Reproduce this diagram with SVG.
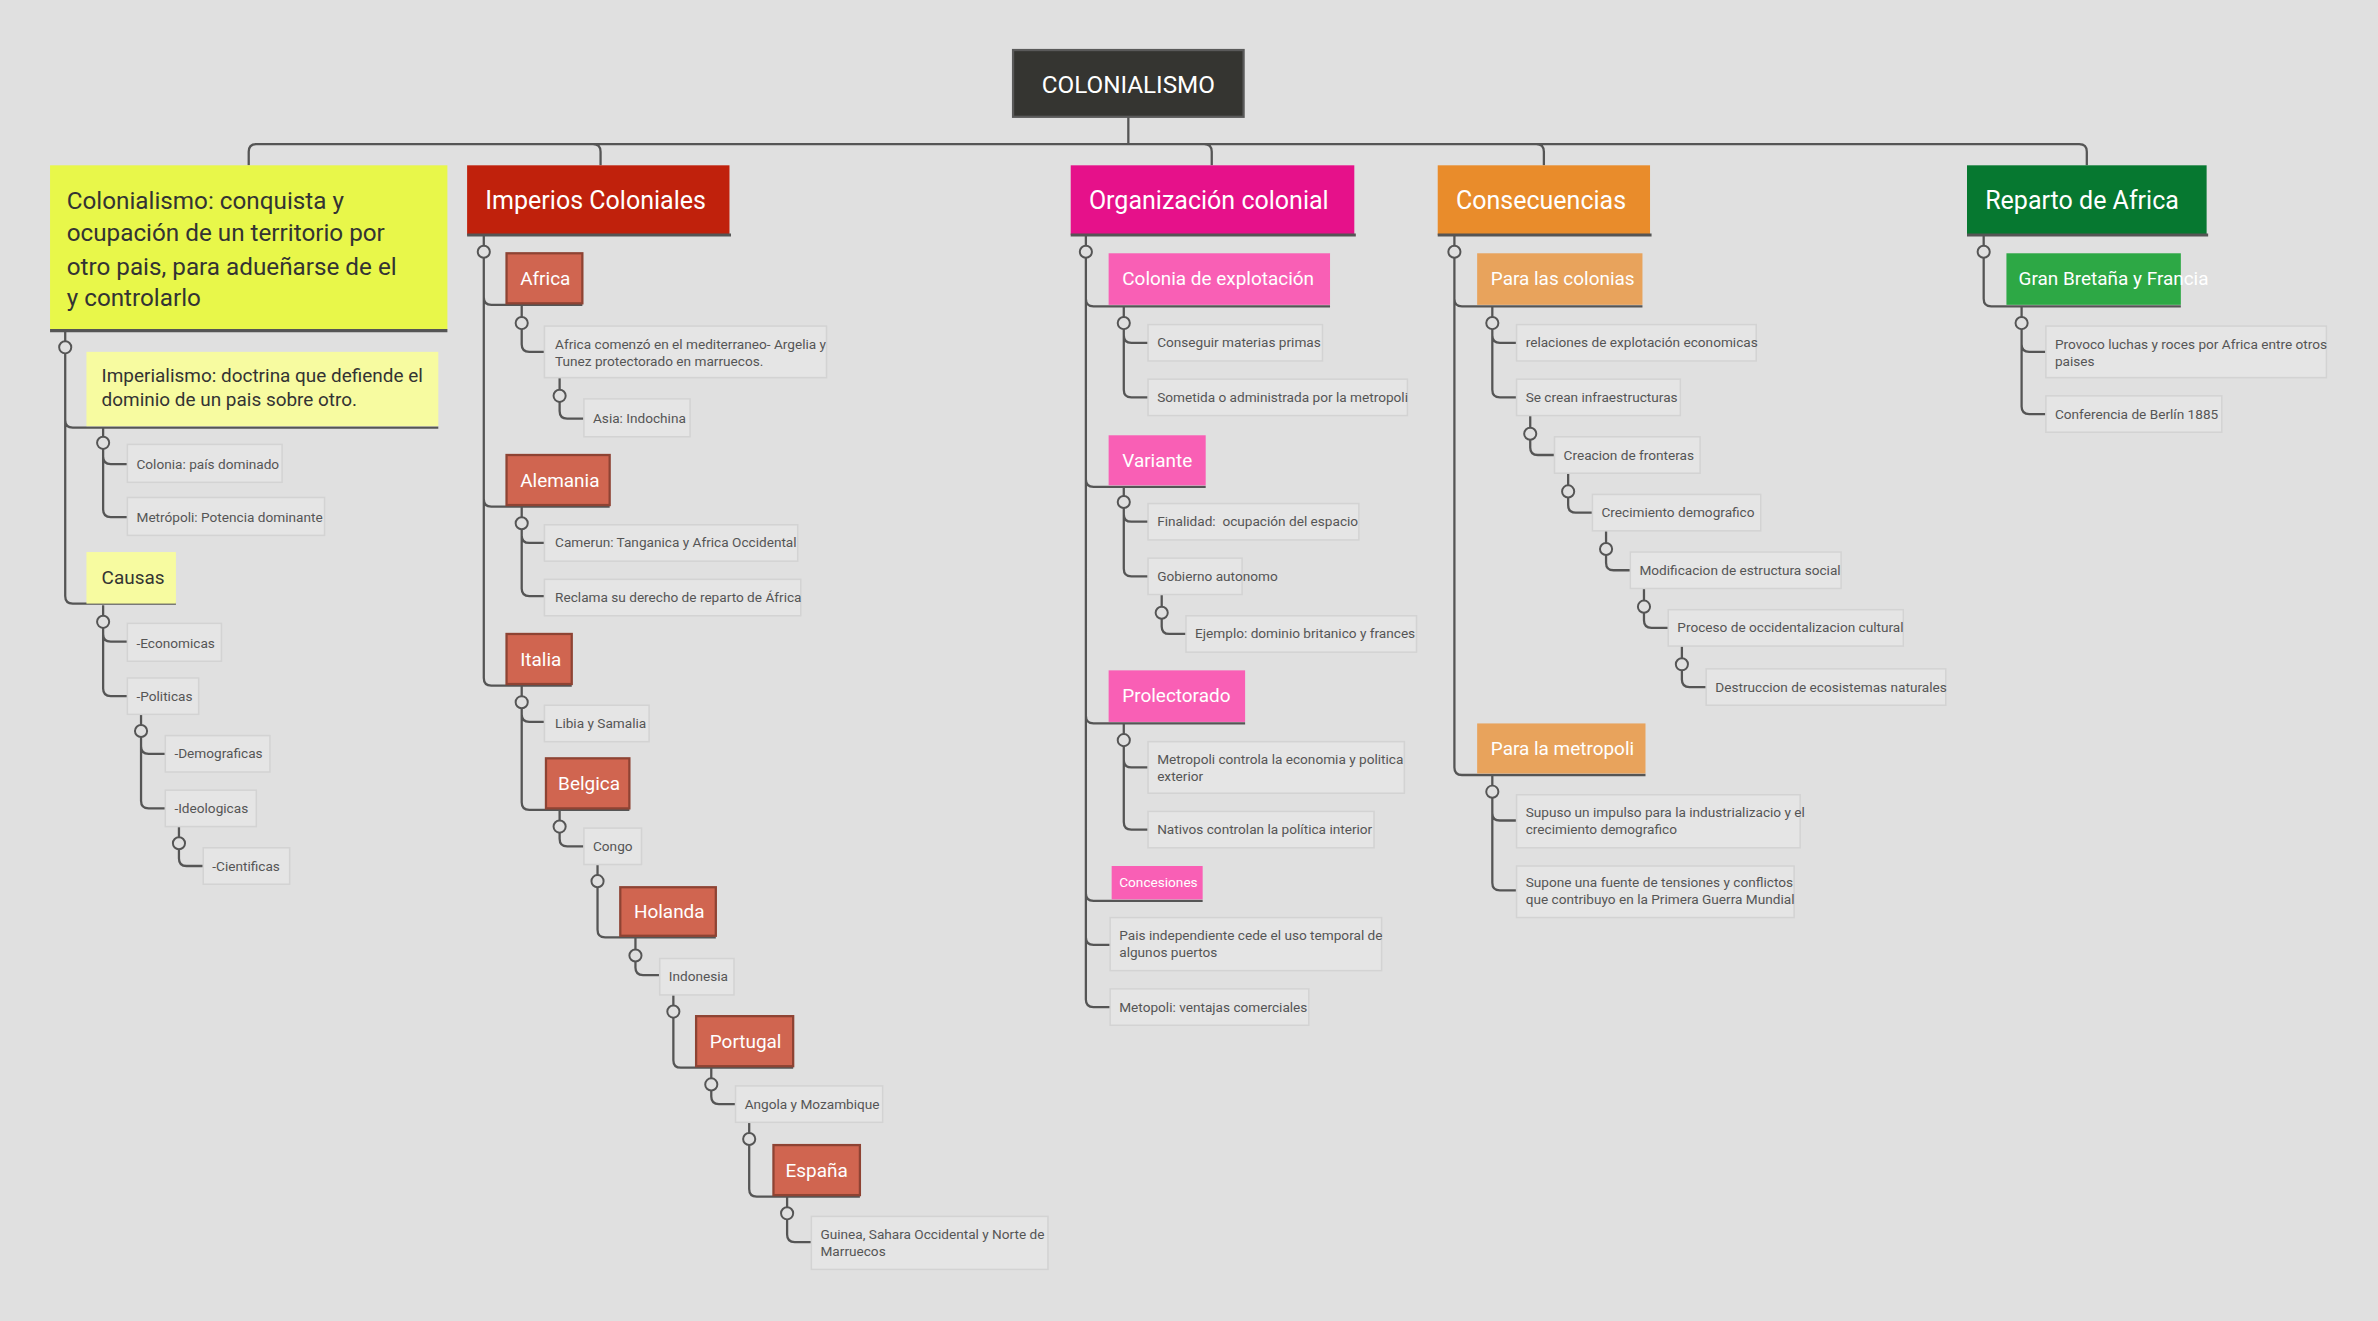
<svg xmlns="http://www.w3.org/2000/svg" width="2378" height="1321" viewBox="0 0 2378 1321">
<style>
text{font-family:Roboto,"Liberation Sans",sans-serif}
.c{fill:none;stroke:#555;stroke-width:1.5}
.k{fill:#e0e0e0;stroke:#555;stroke-width:1.3}
.lf{fill:#e5e5e5;stroke:#d3d3d3;stroke-width:1}
.lt{font-size:9px;fill:#555}
.st{font-size:12.5px;fill:#fff}
.mt{font-size:16.5px;fill:#fff}
.red{fill:#d06550;stroke:#8e4333;stroke-width:1.5}
.pk{fill:#f95fb5}
.ul{stroke:#555;stroke-width:2}
</style>
<rect width="2378" height="1321" fill="#e0e0e0"/>
<g transform="scale(1.51658,1.51665)">
<g id="connectors">
<path class="c" d="M744 77V95M164 109V100Q164 95 169 95H1371Q1376 95 1376 100V109M391 95Q396 95 396 100V109M794 95Q799 95 799 100V109M1013 95Q1018 95 1018 100V109"/>
<path class="c" d="M43 218V393Q43 398 48 398H116M43 218V277Q43 282 48 282H289M68 282V301Q68 306 73 306H84M68 282V336Q68 341 73 341H84M68 399V418Q68 423 73 423H84M68 399V454Q68 459 73 459H84M93 471V492Q93 497 98 497H109M93 471V528Q93 533 98 533H109M118 545V566Q118 571 123 571H134"/>
<path class="c" d="M319 155V196Q319 201 324 201H384M319 155V329Q319 334 324 334H402M319 155V447Q319 452 324 452H377M344 201V227Q344 232 349 232H359M369 249V271Q369 276 374 276H385M344 334V353Q344 358 349 358H359M344 334V388Q344 393 349 393H359M344 452V471Q344 476 349 476H359M344 452V529Q344 534 349 534H415M369 534V553Q369 558 374 558H385M394 570V613Q394 618 399 618H472M419 618V638Q419 643 424 643H435M444 656V699Q444 704 449 704H523M469 704V723Q469 728 474 728H485M494 740V784Q494 789 499 789H567M519 789V814Q519 819 524 819H535"/>
<path class="c" d="M716 155V197Q716 202 721 202H877M716 155V316Q716 321 721 321H795M716 155V472Q716 477 721 477H821M716 155V589Q716 594 721 594H793M716 155V618Q716 623 721 623H732M716 155V659Q716 664 721 664H732M741 202V221Q741 226 746 226H757M741 202V257Q741 262 746 262H757M741 321V339Q741 344 746 344H757M741 321V375Q741 380 746 380H757M766 392V413Q766 418 771 418H782M741 477V501Q741 506 746 506H757M741 477V542Q741 547 746 547H757"/>
<path class="c" d="M959 155V197Q959 202 964 202H1083M959 155V506Q959 511 964 511H1085M984 202V221Q984 226 989 226H1000M984 202V257Q984 262 989 262H1000M1009 274V295Q1009 300 1014 300H1025M1034 312V333Q1034 338 1039 338H1050M1059 350V371Q1059 376 1064 376H1075M1084 388V409Q1084 414 1089 414H1100M1109 426V448Q1109 453 1114 453H1125M984 511V536Q984 541 989 541H1000M984 511V582Q984 587 989 587H1000"/>
<path class="c" d="M1308 155V197Q1308 202 1313 202H1438M1333 202V227Q1333 232 1338 232H1349M1333 202V268Q1333 273 1338 273H1349"/>
<g>
<circle class="k" cx="43" cy="229" r="4"/><circle class="k" cx="68" cy="292" r="4"/><circle class="k" cx="68" cy="410" r="4"/><circle class="k" cx="93" cy="482" r="4"/><circle class="k" cx="118" cy="556" r="4"/>
<circle class="k" cx="319" cy="166" r="4"/><circle class="k" cx="344" cy="213" r="4"/><circle class="k" cx="369" cy="261" r="4"/><circle class="k" cx="344" cy="345" r="4"/><circle class="k" cx="344" cy="463" r="4"/><circle class="k" cx="369" cy="545" r="4"/><circle class="k" cx="394" cy="581" r="4"/><circle class="k" cx="419" cy="630" r="4"/><circle class="k" cx="444" cy="667" r="4"/><circle class="k" cx="469" cy="715" r="4"/><circle class="k" cx="494" cy="751" r="4"/><circle class="k" cx="519" cy="800" r="4"/>
<circle class="k" cx="716" cy="166" r="4"/><circle class="k" cx="741" cy="213" r="4"/><circle class="k" cx="741" cy="331" r="4"/><circle class="k" cx="766" cy="404" r="4"/><circle class="k" cx="741" cy="488" r="4"/>
<circle class="k" cx="959" cy="166" r="4"/><circle class="k" cx="984" cy="213" r="4"/><circle class="k" cx="1009" cy="286" r="4"/><circle class="k" cx="1034" cy="324" r="4"/><circle class="k" cx="1059" cy="362" r="4"/><circle class="k" cx="1084" cy="400" r="4"/><circle class="k" cx="1109" cy="438" r="4"/><circle class="k" cx="984" cy="522" r="4"/>
<circle class="k" cx="1308" cy="166" r="4"/><circle class="k" cx="1333" cy="213" r="4"/>
</g>
</g>
<g id="root"><rect x="668" y="33" width="152" height="44" fill="#353531" stroke="#5a5a5a" stroke-width="1.5"/><text x="744" y="61" text-anchor="middle" style="font-size:16px;fill:#fff">COLONIALISMO</text></g>

<g id="n-colonialismo"><rect x="33" y="109" width="262" height="108" fill="#e8f74a"/><line class="ul" x1="33" y1="218" x2="295" y2="218"/>
<text style="font-size:16px;fill:#333"><tspan x="44" y="138">Colonialismo: conquista y</tspan><tspan x="44" y="159">ocupación de un territorio por</tspan><tspan x="44" y="181">otro pais, para adueñarse de el</tspan><tspan x="44" y="202">y controlarlo</tspan></text></g>
<g id="n-imperialismo"><rect x="57" y="232" width="232" height="49" fill="#f7fba0"/><text style="font-size:12.5px;fill:#333"><tspan x="67" y="252">Imperialismo: doctrina que defiende el</tspan><tspan x="67" y="268">dominio de un pais sobre otro.</tspan></text></g>
<g id="n-colonia"><rect class="lf" x="84" y="293" width="102" height="25"/><text class="lt" x="90" y="309">Colonia: país dominado</text></g>
<g id="n-metropoli"><rect class="lf" x="84" y="328" width="130" height="25"/><text class="lt" x="90" y="344">Metrópoli: Potencia dominante</text></g>
<g id="n-causas"><rect x="57" y="364" width="59" height="34" fill="#f7fba0"/><text x="67" y="385" style="font-size:12.5px;fill:#333">Causas</text></g>
<g id="n-eco"><rect class="lf" x="84" y="411" width="62" height="25"/><text class="lt" x="90" y="427">-Economicas</text></g>
<g id="n-pol"><rect class="lf" x="84" y="447" width="47" height="24"/><text class="lt" x="90" y="462">-Politicas</text></g>
<g id="n-dem"><rect class="lf" x="109" y="485" width="69" height="24"/><text class="lt" x="115" y="500">-Demograficas</text></g>
<g id="n-ideo"><rect class="lf" x="109" y="521" width="60" height="24"/><text class="lt" x="115" y="536">-Ideologicas</text></g>
<g id="n-cien"><rect class="lf" x="134" y="559" width="57" height="24"/><text class="lt" x="140" y="574">-Cientificas</text></g>

<g id="n-imperios"><rect x="308" y="109" width="173" height="46" fill="#c0210c"/><line class="ul" x1="308" y1="155" x2="482" y2="155"/><text class="mt" x="320" y="138">Imperios Coloniales</text></g>
<g id="n-africa"><rect class="red" x="334" y="167" width="50" height="33"/><text class="st" x="343" y="188">Africa</text></g>
<g id="n-afr1"><rect class="lf" x="359" y="215" width="186" height="34"/><text class="lt"><tspan x="366" y="230">Africa comenzó en el mediterraneo- Argelia y</tspan><tspan x="366" y="241">Tunez protectorado en marruecos.</tspan></text></g>
<g id="n-asia"><rect class="lf" x="385" y="263" width="70" height="25"/><text class="lt" x="391" y="279">Asia: Indochina</text></g>
<g id="n-alemania"><rect class="red" x="334" y="300" width="68" height="33"/><text class="st" x="343" y="321">Alemania</text></g>
<g id="n-camerun"><rect class="lf" x="359" y="346" width="167" height="24"/><text class="lt" x="366" y="361">Camerun: Tanganica y Africa Occidental</text></g>
<g id="n-reclama"><rect class="lf" x="359" y="382" width="169" height="24"/><text class="lt" x="366" y="397">Reclama su derecho de reparto de África</text></g>
<g id="n-italia"><rect class="red" x="334" y="418" width="43" height="33"/><text class="st" x="343" y="439">Italia</text></g>
<g id="n-libia"><rect class="lf" x="359" y="465" width="69" height="24"/><text class="lt" x="366" y="480">Libia y Samalia</text></g>
<g id="n-belgica"><rect class="red" x="360" y="500" width="55" height="33"/><text class="st" x="368" y="521">Belgica</text></g>
<g id="n-congo"><rect class="lf" x="385" y="546" width="38" height="24"/><text class="lt" x="391" y="561">Congo</text></g>
<g id="n-holanda"><rect class="red" x="409" y="585" width="63" height="32"/><text class="st" x="418" y="605">Holanda</text></g>
<g id="n-indonesia"><rect class="lf" x="435" y="632" width="49" height="24"/><text class="lt" x="441" y="647">Indonesia</text></g>
<g id="n-portugal"><rect class="red" x="459" y="670" width="64" height="33"/><text class="st" x="468" y="691">Portugal</text></g>
<g id="n-angola"><rect class="lf" x="485" y="716" width="97" height="24"/><text class="lt" x="491" y="731">Angola y Mozambique</text></g>
<g id="n-espana"><rect class="red" x="510" y="755" width="57" height="33"/><text class="st" x="518" y="776">España</text></g>
<g id="n-guinea"><rect class="lf" x="535" y="802" width="156" height="35"/><text class="lt"><tspan x="541" y="817">Guinea, Sahara Occidental y Norte de</tspan><tspan x="541" y="828">Marruecos</tspan></text></g>

<g id="n-organizacion"><rect x="706" y="109" width="187" height="46" fill="#e6118a"/><line class="ul" x1="706" y1="155" x2="894" y2="155"/><text class="mt" x="718" y="138">Organización colonial</text></g>
<g id="n-explot"><rect class="pk" x="731" y="167" width="146" height="34"/><text class="st" x="740" y="188">Colonia de explotación</text></g>
<g id="n-consegir"><rect class="lf" x="757" y="214" width="115" height="24"/><text class="lt" x="763" y="229">Conseguir materias primas</text></g>
<g id="n-sometida"><rect class="lf" x="757" y="250" width="171" height="24"/><text class="lt" x="763" y="265">Sometida o administrada por la metropoli</text></g>
<g id="n-variante"><rect class="pk" x="731" y="287" width="64" height="33"/><text class="st" x="740" y="308">Variante</text></g>
<g id="n-finalidad"><rect class="lf" x="757" y="332" width="139" height="24"/><text class="lt" x="763" y="347" xml:space="preserve">Finalidad:  ocupación del espacio</text></g>
<g id="n-gobierno"><rect class="lf" x="757" y="368" width="62" height="24"/><text class="lt" x="763" y="383">Gobierno autonomo</text></g>
<g id="n-ejemplo"><rect class="lf" x="782" y="406" width="152" height="24"/><text class="lt" x="788" y="421">Ejemplo: dominio britanico y frances</text></g>
<g id="n-prolectorado"><rect class="pk" x="731" y="442" width="90" height="34"/><text class="st" x="740" y="463">Prolectorado</text></g>
<g id="n-metcontrola"><rect class="lf" x="757" y="489" width="169" height="34"/><text class="lt"><tspan x="763" y="504">Metropoli controla la economia y politica</tspan><tspan x="763" y="515">exterior</tspan></text></g>
<g id="n-nativos"><rect class="lf" x="757" y="535" width="149" height="24"/><text class="lt" x="763" y="550">Nativos controlan la política interior</text></g>
<g id="n-concesiones"><rect class="pk" x="733" y="571" width="60" height="22"/><text x="738" y="585" style="font-size:9px;fill:#fff">Concesiones</text></g>
<g id="n-pais"><rect class="lf" x="732" y="605" width="179" height="35"/><text class="lt"><tspan x="738" y="620">Pais independiente cede el uso temporal de</tspan><tspan x="738" y="631">algunos puertos</tspan></text></g>
<g id="n-ventajas"><rect class="lf" x="732" y="652" width="131" height="24"/><text class="lt" x="738" y="667">Metopoli: ventajas comerciales</text></g>

<g id="n-consecuencias"><rect x="948" y="109" width="140" height="46" fill="#e98c2b"/><line class="ul" x1="948" y1="155" x2="1089" y2="155"/><text class="mt" x="960" y="138">Consecuencias</text></g>
<g id="n-paracol"><rect x="974" y="167" width="109" height="34" fill="#e8a35c"/><text class="st" x="983" y="188">Para las colonias</text></g>
<g id="n-relaciones"><rect class="lf" x="1000" y="214" width="158" height="24"/><text class="lt" x="1006" y="229">relaciones de explotación economicas</text></g>
<g id="n-infra"><rect class="lf" x="1000" y="250" width="108" height="24"/><text class="lt" x="1006" y="265">Se crean infraestructuras</text></g>
<g id="n-fronteras"><rect class="lf" x="1025" y="288" width="96" height="24"/><text class="lt" x="1031" y="303">Creacion de fronteras</text></g>
<g id="n-crec"><rect class="lf" x="1050" y="326" width="111" height="24"/><text class="lt" x="1056" y="341">Crecimiento demografico</text></g>
<g id="n-modif"><rect class="lf" x="1075" y="364" width="139" height="24"/><text class="lt" x="1081" y="379">Modificacion de estructura social</text></g>
<g id="n-proceso"><rect class="lf" x="1100" y="402" width="155" height="24"/><text class="lt" x="1106" y="417">Proceso de occidentalizacion cultural</text></g>
<g id="n-destruccion"><rect class="lf" x="1125" y="441" width="158" height="24"/><text class="lt" x="1131" y="456">Destruccion de ecosistemas naturales</text></g>
<g id="n-parametro"><rect x="974" y="477" width="111" height="33" fill="#e8a35c"/><text class="st" x="983" y="498">Para la metropoli</text></g>
<g id="n-supuso"><rect class="lf" x="1000" y="524" width="187" height="35"/><text class="lt"><tspan x="1006" y="539">Supuso un impulso para la industrializacio y el</tspan><tspan x="1006" y="550">crecimiento demografico</tspan></text></g>
<g id="n-supone"><rect class="lf" x="1000" y="571" width="183" height="34"/><text class="lt"><tspan x="1006" y="585">Supone una fuente de tensiones y conflictos</tspan><tspan x="1006" y="596">que contribuyo en la Primera Guerra Mundial</tspan></text></g>

<g id="n-reparto"><rect x="1297" y="109" width="158" height="46" fill="#067830"/><line class="ul" x1="1297" y1="155" x2="1456" y2="155"/><text class="mt" x="1309" y="138">Reparto de Africa</text></g>
<g id="n-gb"><rect x="1323" y="167" width="115" height="34" fill="#2da845"/><text class="st" x="1331" y="188">Gran Bretaña y Francia</text></g>
<g id="n-provoco"><rect class="lf" x="1349" y="215" width="185" height="34"/><text class="lt"><tspan x="1355" y="230">Provoco luchas y roces por Africa entre otros</tspan><tspan x="1355" y="241">paises</tspan></text></g>
<g id="n-berlin"><rect class="lf" x="1349" y="261" width="116" height="24"/><text class="lt" x="1355" y="276">Conferencia de Berlín 1885</text></g>
</g>
</svg>
